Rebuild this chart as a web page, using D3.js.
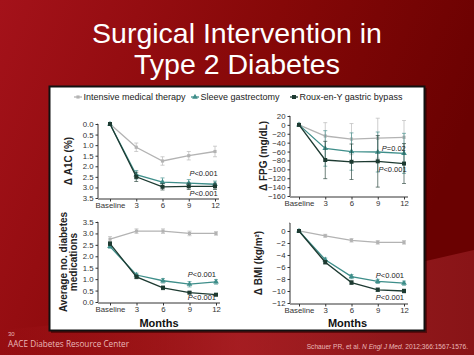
<!DOCTYPE html>
<html>
<head>
<meta charset="UTF-8">
<title>Surgical Intervention in Type 2 Diabetes</title>
<style>
  html, body { margin: 0; padding: 0; background: #7a0606; }
  svg { display: block; font-family: 'Liberation Sans', Arial, sans-serif; }
</style>
<script src="https://d3js.org/d3.v7.min.js"></script>
</head>
<body>
<div id="chart"></div>
<script>
// ---- data ----
const months = [0, 3, 6, 9, 12];
const monthLabels = ["Baseline", "3", "6", "9", "12"];
const groups = ["Intensive medical therapy", "Sleeve gastrectomy", "Roux-en-Y gastric bypass"];

// change in A1C (%), plotted as reduction
const a1cIMT    = [0, 1.1, 1.75, 1.5, 1.3];
const a1cSleeve = [0, 2.4, 2.75, 2.8, 2.85];
const a1cRYGB   = [0, 2.5, 2.97, 2.95, 2.95];
const a1cErrIMT    = [0, 0.2, 0.2, 0.2, 0.25];
const a1cErrSleeve = [0, 0.2, 0.2, 0.18, 0.15];
const a1cErrRYGB   = [0, 0.22, 0.15, 0.15, 0.15];

// change in FPG (mg/dL)
const fpgIMT    = [0, -25, -32, -30, -28];
const fpgSleeve = [0, -53, -60, -61, -64];
const fpgRYGB   = [0, -79, -83, -82, -87];
const fpgErrIMT    = [0, 30, 35, 45, 38];
const fpgErrSleeve = [0, 40, 42, 45, 45];
const fpgErrRYGB   = [0, 42, 40, 58, 45];

// average number of diabetes medications
const medIMT    = [2.75, 3.1, 3.1, 3.0, 3.0];
const medSleeve = [2.43, 1.18, 0.93, 0.78, 0.88];
const medRYGB   = [2.55, 1.1, 0.62, 0.41, 0.32];
const medErrIMT    = [0.12, 0.1, 0.1, 0.1, 0.08];
const medErrSleeve = [0.08, 0.08, 0.1, 0.12, 0.1];
const medErrRYGB   = [0.08, 0.08, 0.08, 0.05, 0.05];

// change in BMI (kg/m2)
const bmiIMT    = [0, -0.8, -1.55, -1.9, -1.9];
const bmiSleeve = [0, -4.8, -7.6, -8.4, -8.7];
const bmiRYGB   = [0, -5.2, -8.6, -9.8, -10.0];
const bmiErrIMT    = [0, 0.25, 0.3, 0.3, 0.3];
const bmiErrSleeve = [0, 0.3, 0.35, 0.35, 0.35];
const bmiErrRYGB   = [0, 0.3, 0.3, 0.3, 0.3];

// ---- styles ----
const colors = ["#b3b3b3", "#3e8e8a", "#1d3a31"];
const symbols = [d3.symbolSquare, d3.symbolTriangle, d3.symbolSquare];
const symSize = [10, 14, 16];

const W = 474, H = 355;
const svg = d3.select("#chart").append("svg").attr("width", W).attr("height", H);

// slide background
const defs = svg.append("defs");
const bg = defs.append("linearGradient").attr("id", "bg").attr("x1", 0).attr("x2", 1).attr("y1", 0).attr("y2", 0.3);
bg.append("stop").attr("offset", 0).attr("stop-color", "#a4121a");
bg.append("stop").attr("offset", 0.55).attr("stop-color", "#860808");
bg.append("stop").attr("offset", 1).attr("stop-color", "#6a0101");
svg.append("rect").attr("width", W).attr("height", H).attr("fill", "url(#bg)");
const sw = defs.append("linearGradient").attr("id", "sw").attr("x1", 0).attr("x2", 1);
sw.append("stop").attr("offset", 0).attr("stop-color", "#c0242c").attr("stop-opacity", 0.0);
sw.append("stop").attr("offset", 0.5).attr("stop-color", "#c83038").attr("stop-opacity", 0.55);
sw.append("stop").attr("offset", 1).attr("stop-color", "#d0404a").attr("stop-opacity", 0.3);
svg.append("path").attr("d", "M0,330 C120,320 260,300 474,250 L474,355 L0,355 Z").attr("fill", "url(#sw)");

// title
const title = svg.append("g").attr("fill", "#fff").attr("font-size", 28.5).attr("text-anchor", "middle");
title.append("text").attr("x", 237).attr("y", 43).text("Surgical Intervention in");
title.append("text").attr("x", 237).attr("y", 74).text("Type 2 Diabetes");

// white figure box
svg.append("rect").attr("x", 51).attr("y", 88).attr("width", 376).attr("height", 245).attr("fill", "#3a0000").attr("opacity", 0.6);
svg.append("rect").attr("x", 49.5).attr("y", 86.5).attr("width", 375).attr("height", 244)
  .attr("fill", "#fff").attr("stroke", "#111").attr("stroke-width", 2);

// legend
const legendX = [74, 191, 290];
const legend = svg.append("g").attr("font-size", 9).attr("fill", "#222");
groups.forEach((g, i) => {
  const lg = legend.append("g").attr("transform", `translate(${legendX[i]},97)`);
  lg.append("line").attr("x1", 0).attr("x2", 8).attr("stroke", colors[i]).attr("stroke-width", 1.3);
  lg.append("path").attr("transform", "translate(4,0)").attr("d", d3.symbol(symbols[i], symSize[i])()).attr("fill", colors[i]);
  lg.append("text").attr("x", 9.5).attr("y", 3.2).text(g);
});

// panels
const panels = [
  { series: [a1cIMT, a1cSleeve, a1cRYGB], errs: [a1cErrIMT, a1cErrSleeve, a1cErrRYGB],
    domain: [0, 3.5], range: [124, 198], ticks: d3.range(0, 3.51, 0.5), fmt: d3.format(".1f"),
    axisX: 98, xr: [110, 215], title: ["\u0394 A1C (%)"], titleX: 72,
    notes: [{ m: 12.3, v: 2.32 }, { m: 12.3, v: 3.28 }] },
  { series: [fpgIMT, fpgSleeve, fpgRYGB], errs: [fpgErrIMT, fpgErrSleeve, fpgErrRYGB],
    domain: [20, -160], range: [116, 196], ticks: d3.range(20, -161, -20), fmt: d3.format("d"),
    axisX: 290, xr: [299, 404], title: ["\u0394 FPG (mg/dL)"], titleX: 267,
    notes: [{ m: 12.2, v: -52, t: "=0.02" }, { m: 12.3, v: -99 }] },
  { series: [medIMT, medSleeve, medRYGB], errs: [medErrIMT, medErrSleeve, medErrRYGB],
    domain: [3.5, 0], range: [222, 302], ticks: d3.range(0, 3.51, 0.5), fmt: d3.format(".1f"),
    axisX: 98, xr: [110, 216], title: ["Average no. diabetes", "medications"], titleX: 68,
    notes: [{ m: 12.0, v: 1.23 }, { m: 12.0, v: 0.22 }], months: true },
  { series: [bmiIMT, bmiSleeve, bmiRYGB], errs: [bmiErrIMT, bmiErrSleeve, bmiErrRYGB],
    domain: [1.33, -12], range: [223, 303], ticks: d3.range(0, -12.1, -2), fmt: d3.format("d"),
    axisX: 290, xr: [299, 404], title: ["\u0394 BMI (kg/m\u00B2)"], titleX: 262,
    notes: [{ m: 12.0, v: -7.33 }, { m: 12.0, v: -11.0 }], months: true }
];

panels.forEach(p => {
  const g = svg.append("g");
  const x = d3.scaleLinear().domain([0, 12]).range(p.xr);
  const y = d3.scaleLinear().domain(p.domain).range(p.range);
  const yBot = p.range[1];

  // y axis
  const ya = g.append("g").attr("transform", `translate(${p.axisX},0)`)
    .call(d3.axisLeft(y).tickValues(p.ticks).tickFormat(p.fmt).tickSize(2.5).tickPadding(2));
  ya.select(".domain").attr("stroke", "#333").attr("d", `M-0.5,${p.range[0]}H0V${yBot}`);
  ya.selectAll("line").attr("stroke", "#333");
  ya.selectAll("text").attr("font-size", 7.8).attr("fill", "#333").attr("font-family", "'Liberation Sans', Arial, sans-serif");

  // x axis
  const xa = g.append("g").attr("transform", `translate(0,${yBot + 1})`)
    .call(d3.axisBottom(x).tickValues(months).tickFormat((d, i) => monthLabels[i]).tickSize(2.5).tickPadding(1));
  xa.select(".domain").attr("stroke", "#333").attr("d", `M${p.axisX},0H${p.xr[1] + 4}`);
  xa.selectAll("line").attr("stroke", "#333");
  xa.selectAll("text").attr("font-size", 7.8).attr("fill", "#333").attr("font-family", "'Liberation Sans', Arial, sans-serif");

  // y title
  const cy = (p.range[0] + yBot) / 2;
  const tt = g.append("text").attr("transform", `translate(${p.titleX},${cy}) rotate(-90)`)
    .attr("text-anchor", "middle").attr("font-size", 10).attr("font-weight", "bold").attr("fill", "#222");
  p.title.forEach((t, i) => tt.append("tspan").attr("x", 0).attr("dy", i === 0 ? (p.title.length > 1 ? "-0.15em" : "0") : "1.05em").text(t));

  if (p.months) {
    g.append("text").attr("x", (p.xr[0] + p.xr[1]) / 2 - 4).attr("y", 327).attr("text-anchor", "middle")
      .attr("font-size", 11).attr("font-weight", "bold").attr("fill", "#111").text("Months");
  }

  // series
  p.series.forEach((vals, si) => {
    const pts = months.map((m, i) => ({ m, v: vals[i], e: p.errs[si][i] }));
    const sg = g.append("g");
    sg.selectAll("line.err").data(pts.filter(d => d.e > 0)).join("g").each(function(d) {
      const e = d3.select(this);
      const xx = x(d.m);
      e.append("line").attr("x1", xx).attr("x2", xx).attr("y1", y(d.v - d.e)).attr("y2", y(d.v + d.e));
      e.append("line").attr("x1", xx - 2).attr("x2", xx + 2).attr("y1", y(d.v - d.e)).attr("y2", y(d.v - d.e));
      e.append("line").attr("x1", xx - 2).attr("x2", xx + 2).attr("y1", y(d.v + d.e)).attr("y2", y(d.v + d.e));
    }).attr("stroke", colors[si]).attr("stroke-width", 0.7).attr("opacity", 0.9);
    sg.append("path").datum(pts)
      .attr("d", d3.line().x(d => x(d.m)).y(d => y(d.v)))
      .attr("fill", "none").attr("stroke", colors[si]).attr("stroke-width", 1.3);
    sg.selectAll("path.pt").data(pts).join("path").attr("class", "pt")
      .attr("transform", d => `translate(${x(d.m)},${y(d.v)})`)
      .attr("d", d3.symbol(symbols[si], symSize[si])())
      .attr("fill", colors[si]);
  });

  // P-value notes
  p.notes.forEach(n => {
    const t = g.append("text").attr("x", x(n.m)).attr("y", y(n.v) + 2.7).attr("text-anchor", "end")
      .attr("font-size", 7.5).attr("fill", "#222");
    t.append("tspan").attr("font-style", "italic").text("P");
    t.append("tspan").text(n.t || "<0.001");
  });
});

// footer
const foot = svg.append("g").attr("fill", "#eab8b8");
foot.append("text").attr("x", 8).attr("y", 336).attr("font-size", 6).text("30");
foot.append("text").attr("x", 8).attr("y", 347).attr("font-size", 8.2).attr("font-family", "'Open Sans', sans-serif").text("AACE Diabetes Resource Center");
const cite = foot.append("text").attr("x", 468).attr("y", 349).attr("font-size", 6.6).attr("text-anchor", "end");
cite.append("tspan").text("Schauer PR, et al. ");
cite.append("tspan").attr("font-style", "italic").text("N Engl J Med.");
cite.append("tspan").text(" 2012;366:1567-1576.");
</script>
</body>
</html>
